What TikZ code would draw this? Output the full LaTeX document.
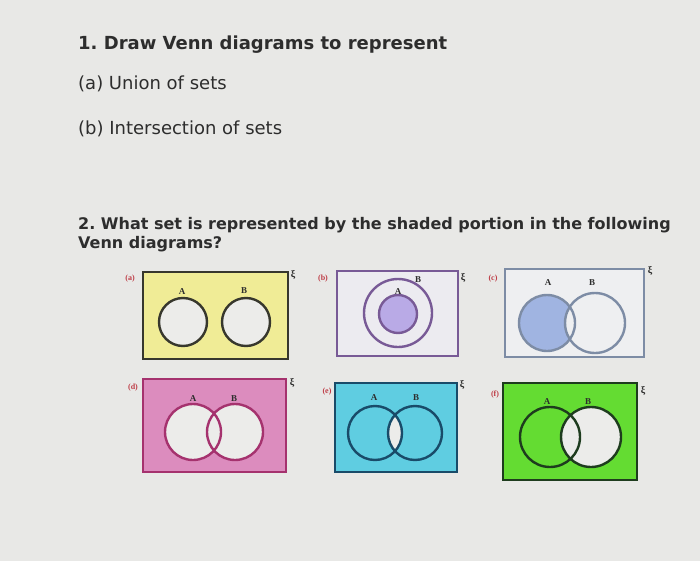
\documentclass[tikz,border=0pt]{standalone}
\usepackage{fontspec}
\setmainfont{DejaVu Sans}
\newfontfamily\lblfont{Liberation Serif}
\definecolor{bgc}{RGB}{232,232,230}
\definecolor{inbg}{RGB}{236,236,234}
\definecolor{txt}{RGB}{45,45,45}
\definecolor{redlbl}{RGB}{190,60,70}
\definecolor{yfill}{RGB}{240,236,150}
\definecolor{aline}{RGB}{55,55,45}
\definecolor{bline}{RGB}{120,90,150}
\definecolor{bfill}{RGB}{185,170,230}
\definecolor{brect}{RGB}{236,235,240}
\definecolor{cline}{RGB}{125,140,165}
\definecolor{cfill}{RGB}{160,180,225}
\definecolor{crect}{RGB}{238,239,241}
\definecolor{dfill}{RGB}{220,140,190}
\definecolor{dline}{RGB}{165,50,110}
\definecolor{efill}{RGB}{95,205,225}
\definecolor{eline}{RGB}{25,75,105}
\definecolor{ffill}{RGB}{100,220,50}
\definecolor{fline}{RGB}{30,60,30}
\tikzset{
  headtxt/.style={anchor=base west,text=txt,inner sep=0pt,font=\frenchspacing\fontsize{18}{20}\selectfont\bfseries},
  headtxtb/.style={anchor=base west,text=txt,inner sep=0pt,font=\frenchspacing\fontsize{16}{18}\selectfont\bfseries},
  bodytxt/.style={anchor=base west,text=txt,inner sep=0pt,font=\frenchspacing\fontsize{18}{20}\selectfont},
  setlbl/.style={text=txt,inner sep=0pt,font=\lblfont\fontsize{9}{10}\selectfont\bfseries},
  partlbl/.style={text=redlbl,inner sep=0pt,font=\lblfont\fontsize{8}{9}\selectfont\bfseries},
  unilbl/.style={text=txt,inner sep=0pt,font=\lblfont\fontsize{10}{11}\selectfont\bfseries},
  boxline/.style={line width=2pt},
  circline/.style={line width=2.4pt},
}
\begin{document}
\begin{tikzpicture}[x=1pt,y=-1pt]
\fill[bgc] (0,0) rectangle (700,561);
\useasboundingbox (0,0) rectangle (700,561);

% texts
\node[headtxt] (q1) at (78,49.5) {1. Draw Venn diagrams to represent};
\node[bodytxt] (q1a) at (78,90) {(a) Union of sets};
\node[bodytxt] (q1b) at (78,135) {(b) Intersection of sets};
\node[headtxtb] (q2) at (78,229) {2. What set is represented by the shaded portion in the following};
\node[headtxtb] (q2b) at (78,248) {Venn diagrams?};

% (a)
\fill[yfill] (143,272) rectangle (288,359);
\fill[inbg] (183,322) circle (24) (246,322) circle (24);
\draw[aline,boxline] (143,272) rectangle (288,359);
\draw[aline,circline] (183,322) circle (24) (246,322) circle (24);
\node[partlbl] (la) at (130,279) {(a)};
\node[setlbl] (aA) at (182,292) {A};
\node[setlbl] (aB) at (244,291) {B};
\node[unilbl] (ua) at (293,275) {ξ};

% (b)
\fill[brect] (337,271) rectangle (458,356);
\draw[bline,boxline] (337,271) rectangle (458,356);
\draw[bline,circline] (398,313) circle (34);
\fill[bfill] (398,314) circle (19);
\draw[bline,circline] (398,314) circle (19);
\node[partlbl] (lb) at (323,279) {(b)};
\node[setlbl] (bA) at (398,292) {A};
\node[setlbl] (bB) at (418,280) {B};
\node[unilbl] (ub) at (463,278) {ξ};

% (c)
\fill[crect] (505,269) rectangle (644,357);
\fill[cfill] (547,323) circle (28);
\fill[crect] (595,323) circle (30);
\draw[cline,boxline] (505,269) rectangle (644,357);
\draw[cline,circline] (547,323) circle (28) (595,323) circle (30);
\node[partlbl] (lc) at (493,279) {(c)};
\node[setlbl] (cA) at (548,283) {A};
\node[setlbl] (cB) at (592,283) {B};
\node[unilbl] (uc) at (650,271) {ξ};

% (d)
\fill[dfill] (143,379) rectangle (286,472);
\fill[inbg] (193,432) circle (28) (235,432) circle (28);
\draw[dline,boxline] (143,379) rectangle (286,472);
\draw[dline,circline] (193,432) circle (28) (235,432) circle (28);
\node[partlbl] (ld) at (133,388) {(d)};
\node[setlbl] (dA) at (193,399) {A};
\node[setlbl] (dB) at (234,399) {B};
\node[unilbl] (ud) at (292,383) {ξ};

% (e)
\fill[efill] (335,383) rectangle (457,472);
\begin{scope}
\clip (375,433) circle (27);
\fill[inbg] (415,433) circle (27);
\end{scope}
\draw[eline,boxline] (335,383) rectangle (457,472);
\draw[eline,circline] (375,433) circle (27) (415,433) circle (27);
\node[partlbl] (le) at (327,392) {(e)};
\node[setlbl] (eA) at (374,398) {A};
\node[setlbl] (eB) at (416,398) {B};
\node[unilbl] (ue) at (462,385) {ξ};

% (f)
\fill[ffill] (503,383) rectangle (637,480);
\fill[inbg] (591,437) circle (30);
\draw[fline,boxline] (503,383) rectangle (637,480);
\draw[fline,circline] (550,437) circle (30) (591,437) circle (30);
\node[partlbl] (lf) at (495,395) {(f)};
\node[setlbl] (fA) at (547,402) {A};
\node[setlbl] (fB) at (588,402) {B};
\node[unilbl] (uf) at (643,391) {ξ};
\end{tikzpicture}
\end{document}
